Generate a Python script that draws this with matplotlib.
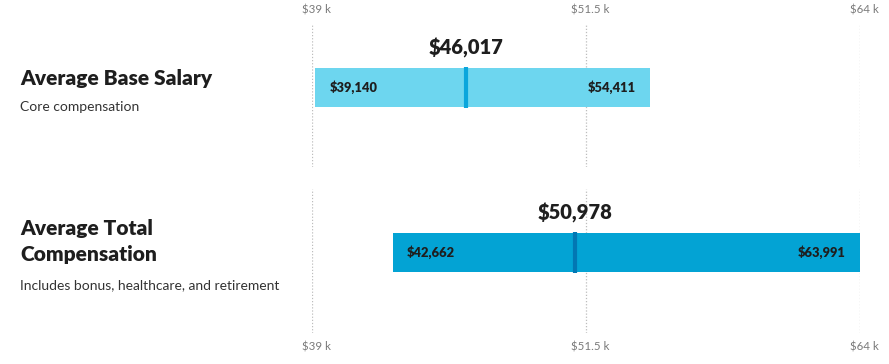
import matplotlib
matplotlib.use("Agg")
import matplotlib.pyplot as plt
from matplotlib.transforms import ScaledTranslation

# ---- data ----
titles = ["Average Base Salary", "Average Total\nCompensation"]
subtitles = ["Core compensation", "Includes bonus, healthcare, and retirement"]
lows = [39140, 42662]
medians = [46017, 50978]
highs = [54411, 63991]
tick_values = [39000, 51500, 64000]
tick_labels = ["$39 k", "$51.5 k", "$64 k"]

bar_colors = ["#6dd6ef", "#03a3d4"]
marker_colors = ["#0aa6dc", "#0277b3"]

plt.rcParams['font.family'] = ['Lato', 'DejaVu Sans']

W, H = 889, 364
fig = plt.figure(figsize=(W / 100, H / 100), dpi=100)

x0_px, x1_px = 312.3, 860.3
panels = [(24, 167), (189, 333)]  # top/bottom pixel rows of each panel
title_y = [(78,), (229, 255)]
sub_y = [107, 285]

def fy(px):
    return 1 - px / H

for i in range(2):
    top, bot = panels[i]
    ax = fig.add_axes([x0_px / W, fy(bot), (x1_px - x0_px) / W, (bot - top) / H])
    h = bot - top
    ax.set_xlim(tick_values[0], tick_values[-1])
    ax.set_ylim(h, 0)
    for s in ax.spines.values():
        s.set_visible(False)
    ax.set_yticks([])
    ax.set_xticks(tick_values)
    ax.set_xticklabels(tick_labels)
    ax.tick_params(axis='x', length=0, labelsize=8.3, labelcolor="#7a7a7a", pad=6)
    if i == 0:
        ax.xaxis.tick_top()
    for lab in ax.get_xticklabels():
        lab.set_transform(lab.get_transform() + ScaledTranslation(4 / 100, 0, fig.dpi_scale_trans))
    ax.grid(axis='x', color="#bdbdbd", linestyle=(0, (1, 1.5)), linewidth=0.9)
    ax.set_axisbelow(True)

    yc = 63.5
    bh = 39.3
    ax.barh(yc, highs[i] - lows[i], left=lows[i], height=bh,
            color=bar_colors[i], zorder=2)
    ax.vlines(medians[i], yc - bh / 2 - 1, yc + bh / 2 + 0.7,
              color=marker_colors[i], linewidth=3, zorder=3)
    ax.text(medians[i], 24, f"${medians[i]:,}", ha='center', va='center',
            fontsize=14.5, fontweight='heavy', color="#1e1e1e", zorder=4)
    pad = 14 * (tick_values[-1] - tick_values[0]) / (x1_px - x0_px)
    ax.text(lows[i] + pad, yc, f"${lows[i]:,}", ha='left', va='center',
            fontsize=9.3, fontweight='heavy', color="#1e1e1e", zorder=4)
    ax.text(highs[i] - pad, yc, f"${highs[i]:,}", ha='right', va='center',
            fontsize=9.3, fontweight='heavy', color="#1e1e1e", zorder=4)

    lines = titles[i].split("\n")
    for line, y in zip(lines, title_y[i]):
        fig.text(20 / W, fy(y), line, ha='left', va='center', fontsize=15,
                 fontweight='heavy', color="#1e1e1e")
    fig.text(20 / W, fy(sub_y[i]), subtitles[i], ha='left', va='center',
             fontsize=10, color="#333333")

fig.savefig("out.png", dpi=100)
